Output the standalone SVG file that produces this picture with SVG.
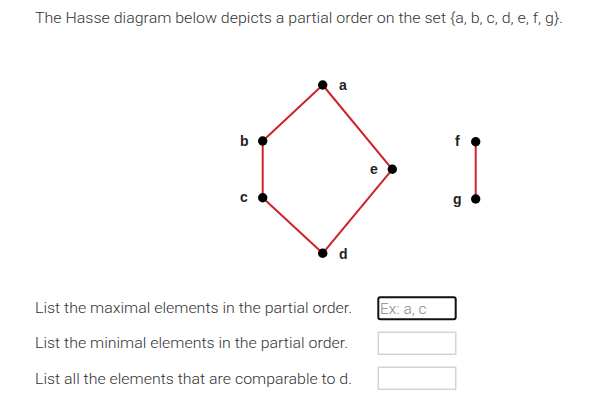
<svg xmlns="http://www.w3.org/2000/svg" width="596" height="400" viewBox="0 0 596 400">
<style>
.t{font-family:Roboto,"Liberation Sans",sans-serif;font-size:15.5px;font-weight:300;fill:#333}
.lbl{font-family:"Liberation Sans",Arial,sans-serif;font-size:14px;font-weight:bold;fill:#222}
.dot{fill:#000}
.edge{stroke:#d0202a;stroke-width:2;fill:none}
.box{fill:#fff;stroke:#cfd6db;stroke-width:1.5}
</style>
<rect width="596" height="400" fill="#fff"/>
<text class="t" x="35" y="23" style="font-size:15.2px" textLength="528" lengthAdjust="spacingAndGlyphs">The Hasse diagram below depicts a partial order on the set {a, b, c, d, e, f, g}.</text>
<g id="connectors">
<line class="edge" x1="322.7" y1="85" x2="262.7" y2="141"/>
<line class="edge" x1="322.7" y1="85" x2="392.3" y2="169.3"/>
<line class="edge" x1="262.7" y1="141" x2="262.7" y2="197.7"/>
<line class="edge" x1="262.7" y1="197.7" x2="322.7" y2="253.3"/>
<line class="edge" x1="392.3" y1="169.3" x2="322.7" y2="253.3"/>
<line class="edge" x1="475.7" y1="141.7" x2="475.7" y2="199"/>
</g>
<g id="node-a"><circle class="dot" cx="322.7" cy="85" r="4.7"/><text class="lbl" x="339" y="90">a</text></g>
<g id="node-b"><circle class="dot" cx="262.7" cy="141" r="4.7"/><text class="lbl" x="240" y="146">b</text></g>
<g id="node-c"><circle class="dot" cx="262.7" cy="197.7" r="4.7"/><text class="lbl" x="240" y="202">c</text></g>
<g id="node-d"><circle class="dot" cx="322.7" cy="253.3" r="4.7"/><text class="lbl" x="339" y="259">d</text></g>
<g id="node-e"><circle class="dot" cx="392.3" cy="169.3" r="4.7"/><text class="lbl" x="370" y="174">e</text></g>
<g id="node-f"><circle class="dot" cx="475.7" cy="141.7" r="4.7"/><text class="lbl" x="455" y="146">f</text></g>
<g id="node-g"><circle class="dot" cx="475.7" cy="199" r="4.7"/><text class="lbl" x="453" y="204">g</text></g>
<text class="t" x="35" y="313" textLength="317" lengthAdjust="spacingAndGlyphs">List the maximal elements in the partial order.</text>
<text class="t" x="35" y="348" textLength="313" lengthAdjust="spacingAndGlyphs">List the minimal elements in the partial order.</text>
<text class="t" x="35" y="384" textLength="317" lengthAdjust="spacingAndGlyphs">List all the elements that are comparable to d.</text>
<rect x="378.3" y="297.3" width="77.4" height="22" rx="2" fill="#fff" stroke="#111" stroke-width="2"/>
<text class="t" x="380" y="314" style="fill:#888">Ex: a, c</text>
<rect class="box" x="378.3" y="332.3" width="77.4" height="22"/>
<rect class="box" x="378.3" y="367.3" width="77.4" height="22"/>
</svg>
